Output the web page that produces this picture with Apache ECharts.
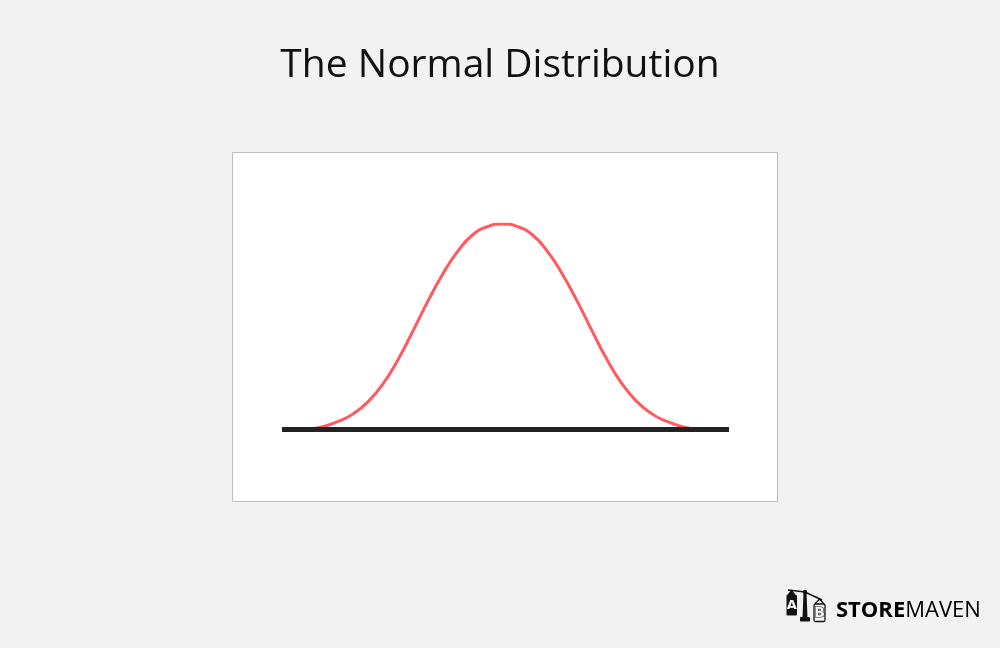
<!DOCTYPE html>
<html>
<head>
<meta charset="utf-8">
<script src="https://cdn.jsdelivr.net/npm/echarts@6/dist/echarts.min.js"></script>
<style>
html,body{margin:0;padding:0;background:#f2f2f2;}
#main{width:1000px;height:648px;}
</style>
</head>
<body>
<div id="main"></div>
<script>
// Curve readings: x in standard-deviation-like units, y density
const curveX = [-3.55, -3.30, -3.05, -2.80, -2.55, -2.30, -2.05, -1.80, -1.55, -1.30, -1.05, -0.80, -0.55, -0.30, -0.05, 0.20, 0.45, 0.70, 0.95, 1.20, 1.45, 1.70, 1.95, 2.20, 2.45, 2.70, 2.95, 3.20, 3.45];
const curveY = [0, 0, 0.005, 0.015, 0.030, 0.054, 0.089, 0.136, 0.192, 0.250, 0.303, 0.347, 0.379, 0.395, 0.400, 0.395, 0.379, 0.347, 0.303, 0.250, 0.192, 0.136, 0.089, 0.054, 0.030, 0.015, 0.005, 0, 0];
const xRange = [-3.75, 3.75];
const yRange = [0, 0.4];
const titleText = 'The Normal Distribution';

const chart = echarts.init(document.getElementById('main'));
const data = curveX.map((x, i) => [x, curveY[i]]);

chart.setOption({
  backgroundColor: '#f2f2f2',
  animation: false,
  title: {
    text: titleText,
    left: 'center',
    top: 41,
    textStyle: { fontFamily: 'Open Sans', fontWeight: 'normal', fontSize: 39, color: '#111' }
  },
  grid: { left: 282, right: 271, top: 224, bottom: 219 },
  xAxis: {
    type: 'value', min: xRange[0], max: xRange[1], z: 10,
    axisLine: { show: true, onZero: false, lineStyle: { color: '#222', width: 5, cap: 'butt' } },
    axisTick: { show: false }, axisLabel: { show: false }, splitLine: { show: false }
  },
  yAxis: {
    type: 'value', min: yRange[0], max: yRange[1], show: false,
    splitLine: { show: false }
  },
  series: [{
    type: 'line',
    data: data,
    smooth: true,
    showSymbol: false,
    lineStyle: { color: '#ff5a5f', width: 3 },
    z: 2
  }],
  graphic: [
    { type: 'rect', z: -10, shape: { x: 232.5, y: 152.5, width: 545, height: 349 },
      style: { fill: '#ffffff', stroke: '#bdbdbd', lineWidth: 1 } },
    // logo: scale icon
    { type: 'polyline', z: 5, shape: { points: [[788, 590], [805, 592], [822, 600]] },
      style: { stroke: '#111', lineWidth: 1.5, fill: null } },
    { type: 'circle', z: 5, shape: { cx: 805, cy: 592, r: 2.2 }, style: { fill: '#111' } },
    { type: 'polygon', z: 5, shape: { points: [[803.5, 592], [806.5, 592], [807.5, 618], [802.5, 618]] }, style: { fill: '#111' } },
    { type: 'rect', z: 5, shape: { x: 800, y: 617, width: 10, height: 4.5, r: 1 }, style: { fill: '#111' } },
    { type: 'polygon', z: 5, shape: { points: [[791.5, 589.5], [786.5, 596], [796.5, 596]] }, style: { fill: '#111' } },
    { type: 'rect', z: 5, shape: { x: 786.5, y: 595, width: 10.5, height: 20.5, r: 1 }, style: { fill: '#111' } },
    { type: 'text', z: 6, style: { x: 791.8, y: 606, text: 'A', fill: '#fff', fontFamily: 'DejaVu Sans', fontWeight: 'bold', fontSize: 13, align: 'center', verticalAlign: 'middle' } },
    { type: 'polyline', z: 5, shape: { points: [[815, 604], [819.5, 599], [824, 604]] }, style: { stroke: '#111', lineWidth: 1.3, fill: null } },
    { type: 'rect', z: 5, shape: { x: 814, y: 604, width: 11, height: 17.5, r: 1.5 }, style: { fill: '#f2f2f2', stroke: '#111', lineWidth: 1.3 } },
    { type: 'text', z: 6, style: { x: 819.5, y: 613.5, text: 'B', fill: '#f2f2f2', stroke: '#111', lineWidth: 1.1, fontFamily: 'DejaVu Sans', fontWeight: 'bold', fontSize: 14, align: 'center', verticalAlign: 'middle' } },
    { type: 'text', z: 6, style: {
        x: 836, y: 611, text: '{b|STORE}{r|MAVEN}', verticalAlign: 'middle', align: 'left',
        rich: {
          b: { fontFamily: 'Open Sans', fontWeight: 'bold', fontSize: 22, color: '#111' },
          r: { fontFamily: 'Open Sans', fontWeight: 'normal', fontSize: 22, color: '#111' }
        }
      } }
  ]
});
</script>
</body>
</html>
